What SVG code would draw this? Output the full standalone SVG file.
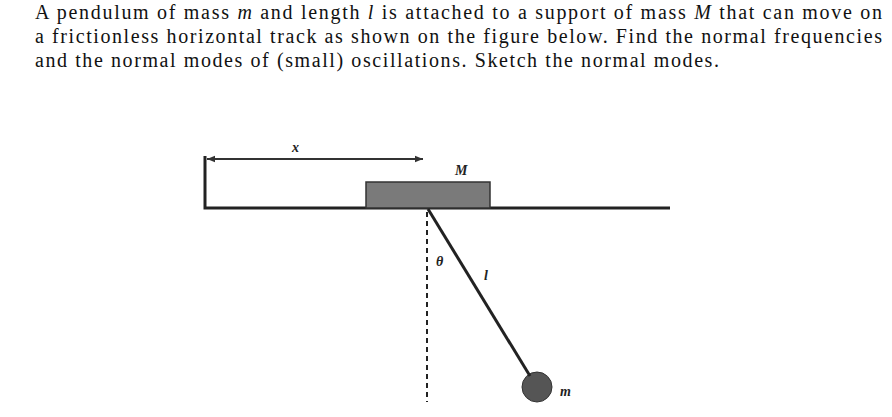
<svg xmlns="http://www.w3.org/2000/svg" width="892" height="417" viewBox="0 0 892 417">
<style>
.t{font-family:"Liberation Serif",serif;font-size:20px;fill:#111}
.l{font-family:"Liberation Serif",serif;font-size:14px;font-style:italic;font-weight:bold;fill:#222}
</style>
<defs><marker id="a" viewBox="0 0 10 10" refX="10" refY="5" markerWidth="8" markerHeight="8" markerUnits="userSpaceOnUse" orient="auto-start-reverse"><path d="M0,1 L10,5 L0,9 z" fill="#333"/></marker></defs>
<rect width="892" height="417" fill="#fff"/>
<text class="t" x="35" y="19" textLength="847" lengthAdjust="spacing">A pendulum of mass <tspan font-style="italic">m</tspan> and length <tspan font-style="italic">l</tspan> is attached to a support of mass <tspan font-style="italic">M</tspan> that can move on</text>
<text class="t" x="35" y="43" textLength="847" lengthAdjust="spacing">a frictionless horizontal track as shown on the figure below. Find the normal frequencies</text>
<text class="t" x="35" y="67" textLength="684" lengthAdjust="spacing">and the normal modes of (small) oscillations. Sketch the normal modes.</text>
<g id="track"><path d="M205,156 V208 H670" fill="none" stroke="#222" stroke-width="3"/></g>
<g id="block"><rect x="366" y="182" width="124" height="26" fill="#7a7a7a" stroke="#333" stroke-width="1.5"/><text class="l" x="455" y="175">M</text></g>
<g id="bob"><circle cx="537" cy="387" r="15" fill="#555" stroke="#333"/><text class="l" x="560" y="396">m</text></g>
<g id="connectors">
<line x1="207" y1="159" x2="423" y2="159" stroke="#333" stroke-width="2" marker-start="url(#a)" marker-end="url(#a)"/>
<line x1="427" y1="212" x2="427" y2="402" stroke="#222" stroke-width="2" stroke-dasharray="5,4"/>
<line x1="428" y1="209" x2="530" y2="376" stroke="#222" stroke-width="3"/>
</g>
<text class="l" x="292" y="152">x</text>
<text class="l" x="436" y="266">θ</text>
<text class="l" x="484" y="280">l</text>
</svg>
